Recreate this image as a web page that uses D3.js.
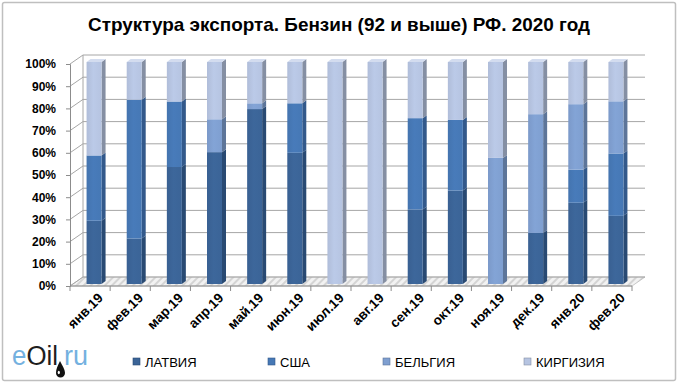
<!DOCTYPE html>
<html><head><meta charset="utf-8">
<script src="https://cdn.jsdelivr.net/npm/d3@7"></script>
<style>body{margin:0;background:#fff}svg{display:block}</style>
</head><body>
<script>
const categories = ["янв.19","фев.19","мар.19","апр.19","май.19","июн.19","июл.19","авг.19","сен.19","окт.19","ноя.19","дек.19","янв.20","фев.20"];
const latvia     = [28.5, 20.5, 52.7, 59.4, 78.8, 59.1, 0, 0, 33.6, 42.1, 0, 23.0, 36.6, 30.7];
const usa        = [29.4, 62.5, 29.5, 0, 0, 22.3, 0, 0, 41.1, 31.8, 0, 0, 14.9, 28.1];
const belgium    = [0, 0, 0, 14.8, 2.6, 0, 0, 0, 0, 0, 56.8, 53.5, 29.5, 23.5];
const kyrgyzstan = [42.1, 17.0, 17.8, 25.8, 18.6, 18.6, 100, 100, 25.3, 26.1, 43.2, 23.5, 19.0, 17.7];
const seriesNames = ["ЛАТВИЯ","США","БЕЛЬГИЯ","КИРГИЗИЯ"];
const yTicks = [0,0.1,0.2,0.3,0.4,0.5,0.6,0.7,0.8,0.9,1];
const title = "Структура экспорта. Бензин (92 и выше) РФ. 2020 год";

const W = 680, H = 384;
const svg = d3.select("body").append("svg").attr("width", W).attr("height", H)
  .style("font-family", "'Liberation Sans', Arial, sans-serif");

const faces = [
  {front:"#3b6497", side:"#294a73", top:"#5a80b4"},
  {front:"#4678b5", side:"#33598b", top:"#6e98cc"},
  {front:"#7f9fd0", side:"#5d7599", top:"#a5bde3"},
  {front:"#b6c4e1", side:"#858fa3", top:"#d3dcef"}
];

const defs = svg.append("defs");
const hatch = defs.append("pattern").attr("id","hatch").attr("width",5).attr("height",5)
  .attr("patternUnits","userSpaceOnUse").attr("patternTransform","rotate(45)");
hatch.append("rect").attr("width",5).attr("height",5).attr("fill","#f2f2f2");
hatch.append("rect").attr("width",2).attr("height",5).attr("fill","#d4d4d4");
faces.forEach((f,i)=>{
  const g = defs.append("linearGradient").attr("id","lg"+i).attr("x1",0).attr("x2",1).attr("y1",0).attr("y2",0);
  g.append("stop").attr("offset","0%").attr("stop-color", d3.color(f.front).darker(0.1));
  g.append("stop").attr("offset","45%").attr("stop-color", d3.color(f.front).brighter(0.08));
  g.append("stop").attr("offset","100%").attr("stop-color", f.front);
});

// frame
svg.append("rect").attr("x",2.5).attr("y",2.5).attr("width",673).attr("height",378)
  .attr("fill","#fff").attr("stroke","#bfbfbf").attr("stroke-width",1.5).attr("rx",2);

// title
svg.append("text").attr("x",339).attr("y",31).attr("text-anchor","middle")
  .attr("font-size",19).attr("font-weight","bold")
  .style("font-family","'Liberation Sans Narrow','Arial Narrow','Liberation Sans',sans-serif")
  .attr("textLength",502).attr("lengthAdjust","spacingAndGlyphs")
  .attr("fill","#000").text(title);

// scales
const x0 = 70, x1 = 632, DX = 13, DY = -9;
const x = d3.scaleBand().domain(categories).range([x0, x1]).paddingInner(0).paddingOuter(0);
const y = d3.scaleLinear().domain([0,1]).range([286, 64]);

// floor
svg.append("path")
  .attr("d", `M${x0},${y(0)} L${x1},${y(0)} L${x1+DX},${y(0)+DY} L${x0+DX},${y(0)+DY} Z`)
  .attr("fill","url(#hatch)").attr("stroke","#bdbdbd").attr("stroke-width",0.8);

// gridlines: back wall and left wall
const grid = svg.append("g").attr("stroke","#a6a6a6").attr("stroke-width",1).attr("fill","none");
yTicks.forEach(t=>{
  grid.append("line").attr("x1",x0+DX).attr("x2",x1+DX).attr("y1",y(t)+DY).attr("y2",y(t)+DY);
  grid.append("line").attr("x1",x0).attr("x2",x0+DX).attr("y1",y(t)).attr("y2",y(t)+DY);
});
grid.append("line").attr("x1",x0+DX).attr("x2",x0+DX).attr("y1",y(0)+DY).attr("y2",y(1)+DY);

// y axis
const yAxis = d3.axisLeft(y).tickValues(yTicks).tickFormat(d3.format(".0%")).tickSize(4).tickPadding(10);
const ya = svg.append("g").attr("transform",`translate(${x0},0)`).call(yAxis);
ya.select(".domain").attr("stroke","#8c8c8c");
ya.selectAll(".tick line").attr("stroke","#8c8c8c");
ya.selectAll("text").attr("font-size",12).attr("font-weight","bold").attr("fill","#000")
  .style("font-family","'Liberation Sans',Arial,sans-serif");

// x axis ticks and labels
const xa = svg.append("g").attr("transform",`translate(0,${y(0)})`);
xa.append("line").attr("x1",x0).attr("x2",x1).attr("stroke","#8c8c8c");
categories.forEach((c,i)=>{
  xa.append("line").attr("x1",x.step()*i + x0).attr("x2",x.step()*i + x0).attr("y1",0).attr("y2",5).attr("stroke","#8c8c8c");
});
xa.append("line").attr("x1",x1).attr("x2",x1).attr("y1",0).attr("y2",5).attr("stroke","#8c8c8c");
xa.selectAll("text.xl").data(categories).join("text").attr("class","xl")
  .attr("transform", d=>`translate(${x(d)+x.bandwidth()/2+7},${6}) rotate(-45)`)
  .attr("text-anchor","end").attr("dy","0.71em").attr("font-size",13.5).attr("font-weight","bold").attr("fill","#000")
  .text(d=>d);

// bars
const table = categories.map((c,i)=>({cat:c, s0:latvia[i], s1:usa[i], s2:belgium[i], s3:kyrgyzstan[i]}));
const stack = d3.stack().keys(["s0","s1","s2","s3"]).offset(d3.stackOffsetExpand);
const stacked = stack(table);
const bw = 15, bdx = 4, bdy = -3, boff = 4, lift = -2;
const bars = svg.append("g");
categories.forEach((c,i)=>{
  const bx = x(c) + x.bandwidth()/2 - bw/2 + boff;
  stacked.forEach((layer,k)=>{
    const d = layer[i];
    if (d[1]-d[0] <= 0.0005) return;
    const yt = y(d[1]) + lift, yb = y(d[0]) + lift;
    bars.append("path").attr("d",`M${bx+bw},${yb} L${bx+bw+bdx},${yb+bdy} L${bx+bw+bdx},${yt+bdy} L${bx+bw},${yt} Z`)
      .attr("fill",faces[k].side);
    bars.append("rect").attr("x",bx).attr("y",yt).attr("width",bw).attr("height",yb-yt)
      .attr("fill",`url(#lg${k})`);
  });
  let topK = -1;
  stacked.forEach((layer,k)=>{ if (layer[i][1]-layer[i][0] > 0.0005) topK = k; });
  const yt = y(1) + lift;
  bars.append("path").attr("d",`M${bx},${yt} L${bx+bdx},${yt+bdy} L${bx+bw+bdx},${yt+bdy} L${bx+bw},${yt} Z`)
    .attr("fill",faces[topK].top);
});

// legend
const legX = [133, 268, 383, 524];
const leg = svg.append("g");
seriesNames.forEach((n,k)=>{
  leg.append("rect").attr("x",legX[k]).attr("y",358).attr("width",7).attr("height",7)
    .attr("fill",faces[k].front).attr("stroke",faces[k].side).attr("stroke-width",0.6);
  leg.append("text").attr("x",legX[k]+12).attr("y",367).attr("font-size",13)
    .style("font-family","'Liberation Sans Narrow','Arial Narrow','Liberation Sans',sans-serif")
    .attr("fill","#000").text(n);
});

// logo
const logo = svg.append("text").attr("x",12).attr("y",365).attr("font-size",27)
  .style("font-family","'Liberation Sans',Arial,sans-serif")
  .attr("textLength",46).attr("lengthAdjust","spacingAndGlyphs");
logo.append("tspan").attr("fill","#74b1e0").text("e");
logo.append("tspan").attr("fill","#1e1e1e").text("Oil");
svg.append("text").attr("x",64).attr("y",365).attr("font-size",27)
  .style("font-family","'Liberation Sans',Arial,sans-serif").attr("fill","#74b1e0")
  .attr("textLength",24).attr("lengthAdjust","spacingAndGlyphs").text("ru");
svg.append("path").attr("d","M60,361 C57.5,366 56,369.5 56,373 A4.5,4.5 0 0 0 65,373 C65,369.5 62.5,366 60,361 Z")
  .attr("fill","#111");
svg.append("ellipse").attr("cx",58.8).attr("cy",372.5).attr("rx",1.1).attr("ry",1.8).attr("fill","#fff");
</script>
</body></html>
